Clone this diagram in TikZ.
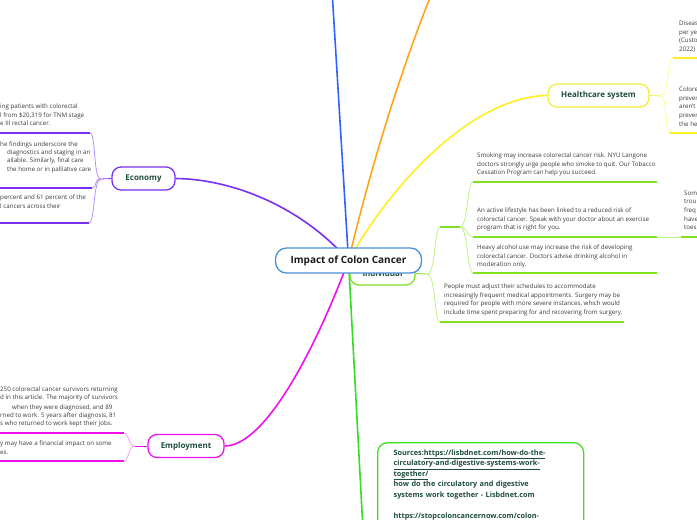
\documentclass[tikz,border=0pt]{standalone}
\usepackage{fontspec}
\setmainfont{Open Sans}
\usepackage{xcolor}
\definecolor{cCore}{HTML}{4A90D9}
\definecolor{cInk}{HTML}{1A1A1A}
\definecolor{cTitle}{HTML}{1E4D3A}
\definecolor{cText}{HTML}{3A3A3A}
\definecolor{cBlue}{HTML}{2F62FF}
\definecolor{cOrange}{HTML}{FFA31A}
\definecolor{cYellow}{HTML}{FFEE22}
\definecolor{cYellowBox}{HTML}{F2EE3A}
\definecolor{cYellowLight}{HTML}{FFFF8A}
\definecolor{cPurple}{HTML}{7B2FF2}
\definecolor{cPurpleLight}{HTML}{B48CFF}
\definecolor{cMagenta}{HTML}{EE11EE}
\definecolor{cMagentaLight}{HTML}{F7A0F7}
\definecolor{cGreen}{HTML}{33DD22}
\definecolor{cLime}{HTML}{80E022}
\definecolor{cLimeLight}{HTML}{BDF285}
\usepackage{tikz}
\usetikzlibrary{backgrounds}
\tikzset{
  topic-core/.style={draw=cCore,line width=1.3pt,rounded corners=11pt,fill=white,
    minimum width=146pt,minimum height=25pt,text=cInk,
    font=\fontsize{10}{12}\selectfont\bfseries},
  topic-main/.style={line width=1.3pt,rounded corners=9pt,fill=white,
    minimum height=23pt,text=cTitle,font=\fontsize{8}{10}\selectfont\bfseries},
  note/.style={anchor=north west,inner sep=0pt,align=left,text=cText,
    font=\fontsize{6.2}{8.6}\selectfont,execute at begin node=\strut},
  src-box/.style={anchor=north west,draw=cGreen!80!cLime,line width=1.3pt,
    rounded corners=10pt,fill=white,text width=174pt,inner xsep=16pt,
    inner ysep=5pt,align=left,text=cTitle,
    font=\fontsize{7.3}{10.6}\selectfont\bfseries,execute at begin node=\strut},
  branch/.style={line width=1.6pt},
  twig/.style={line width=0.8pt},
  ul/.style={line width=1.6pt},
}

\begin{document}
\begin{tikzpicture}[x=1pt,y=-1pt]
  \useasboundingbox (0,0) rectangle (697,520);
  \clip (0,0) rectangle (697,520);

  % free ends and forks
  \coordinate (off-b) at (332,-10);
  \coordinate (off-o) at (433,-10);
  \coordinate (off-g) at (363,530);
  \coordinate (ind-fork) at (427,274);
  \coordinate (hc-fork) at (661,96);
  \coordinate (eco-fork) at (101,179);
  \coordinate (emp-fork) at (135,446);

  % main topics
  \node[topic-main,draw=cLime,minimum width=65pt] (ind) at (382.5,273.5) {Individual};
  \node[topic-core] (core) at (348.5,260.5) {Impact of Colon Cancer};
  \node[topic-main,draw=cYellowBox,minimum width=101pt] (hc) at (598.5,95.5) {Healthcare system};
  \node[topic-main,draw=cPurple,minimum width=63pt] (eco) at (143.5,178.5) {Economy};
  \node[topic-main,draw=cMagenta,minimum width=76pt] (emp) at (186,446) {Employment};

  % Individual notes
  \node[note] (smoke) at (477,152.7) {Smoking may increase colorectal cancer risk. NYU Langone\\doctors strongly urge people who smoke to quit. Our Tobacco\\Cessation Program can help you succeed.};
  \node[note] (active) at (477,207.7) {An active lifestyle has been linked to a reduced risk of\\colorectal cancer. Speak with your doctor about an exercise\\program that is right for you.};
  \node[note] (alcohol) at (477,244.7) {Heavy alcohol use may increase the risk of developing\\colorectal cancer. Doctors advise drinking alcohol in\\moderation only.};
  \node[note] (adjust) at (444,283.7) {People must adjust their schedules to accommodate\\increasingly frequent medical appointments. Surgery may be\\required for people with more severe instances, which would\\include time spent preparing for and recovering from surgery.};
  \node[note] (som) at (684,190.7) {Som\\trou\\freq\\have\\toes};

  % Healthcare notes
  \node[note] (dis) at (679,20.7) {Diseas\\per ye\\(Custo\\2022)};
  \node[note] (col) at (679,86.7) {Colore\\preven\\aren't\\preven\\the he};

  % Economy notes
  \node[note] (eco-a) at (0,103.7) {ing patients with colorectal\\l from \$20,319 for TNM stage\\e III rectal cancer.};
  \node[note] (eco-b) at (0,140.7) {he findings underscore the};
  \node[note] (eco-b2) at (7,149.3) {diagnostics and staging in an\\ailable. Similarly, final care\\the home or in palliative care};
  \node[note] (eco-c) at (0,194.7) {percent and 61 percent of the\\l cancers across their};

  % Employment notes
  \node[note] (emp-a) at (0,386.4) {250 colorectal cancer survivors returning\\d in this article. The majority of survivors};
  \node[note] (emp-a2) at (12,403.6) {when they were diagnosed, and 89};
  \node[note] (emp-a3) at (0,412.2) {rned to work. 5 years after diagnosis, 81\\s who returned to work kept their jobs.};
  \node[note] (emp-b) at (0,440.7) {y may have a financial impact on some\\es.};

  % sources
  \node[src-box] (src) at (377,442) {Sources:\underline{https://lisbdnet.com/how-do-the-}\\
    \underline{circulatory-and-digestive-systems-work-}\\
    \underline{together/}\\
    how do the circulatory and digestive\\
    systems work together - Lisbdnet.com\\
    \mbox{}\\
    \underline{https://stopcoloncancernow.com/colon-}\\
    \mbox{}\\
    \mbox{}};

  \begin{pgfonlayer}{background}
    \draw[branch,cBlue] (core.center) -- (off-b);
    \draw[branch,cOrange] (core.center) .. controls (375,150) and (405,60) .. (off-o);
    \draw[branch,cYellow] (core.center) .. controls (400,170) and (480,96) .. (hc.west);
    \draw[branch,cPurple] (core.center) .. controls (300,205) and (230,179) .. (eco.east);
    \draw[branch,cMagenta] (core.center) .. controls (315,350) and (265,446) .. (emp.east);
    \draw[branch,cGreen] (core.center) -- (off-g);
  \end{pgfonlayer}

  % Individual branch
  \draw[twig,cLime] (ind.east) -- (ind-fork);
  \draw[twig,cLimeLight] (ind-fork) .. controls +(9,0) and +(-6,0) .. (440,227);
  \draw[twig,cLimeLight] (ind-fork) .. controls +(9,0) and +(-6,0) .. (440,322);
  \draw[ul,cLime] (440,227) -- (460,227);
  \foreach \y in {182,237,273}
    \draw[twig,cLimeLight] (460,227) .. controls +(8,0) and +(-6,0) .. (473,\y);
  \draw[ul,cLime] (473,182) -- (657,182);
  \draw[ul,cLime] (473,237) -- (657,237);
  \draw[ul,cLime] (473,273) -- (657,273);
  \draw[ul,cLime] (440,322) -- (624,322);
  \draw[twig,cLimeLight] (657,237) -- (681,237);
  \draw[ul,cLime] (681,237) -- (700,237);

  % Healthcare branch
  \draw[twig,cYellowBox] (hc.east) -- (hc-fork);
  \draw[twig,cYellowLight] (hc-fork) .. controls +(8,0) and +(-6,0) .. (673,58);
  \draw[twig,cYellowLight] (hc-fork) .. controls +(6,0) and +(-5,0) .. (670,133);
  \draw[ul,cYellow] (673,58) -- (700,58);
  \draw[ul,cYellow] (670,133) -- (700,133);

  % Economy branch
  \draw[twig,cPurple] (eco.west) -- (eco-fork);
  \foreach \x/\y in {90/133,92/188,89/223}
    \draw[twig,cPurpleLight] (eco-fork) .. controls +(-8,0) and +(6,0) .. (\x,\y);
  \draw[ul,cPurple] (-5,133) -- (90,133);
  \draw[ul,cPurple] (-5,188) -- (92,188);
  \draw[ul,cPurple] (-5,223) -- (89,223);

  % Employment branch
  \draw[twig,cMagenta] (emp.west) -- (emp-fork);
  \draw[twig,cMagentaLight] (emp-fork) .. controls +(-7,0) and +(5,0) .. (124,433);
  \draw[twig,cMagentaLight] (emp-fork) .. controls +(-7,0) and +(5,0) .. (124,461);
  \draw[ul,cMagenta] (-5,433) -- (124,433);
  \draw[ul,cMagenta] (-5,461) -- (124,461);
\end{tikzpicture}
\end{document}
